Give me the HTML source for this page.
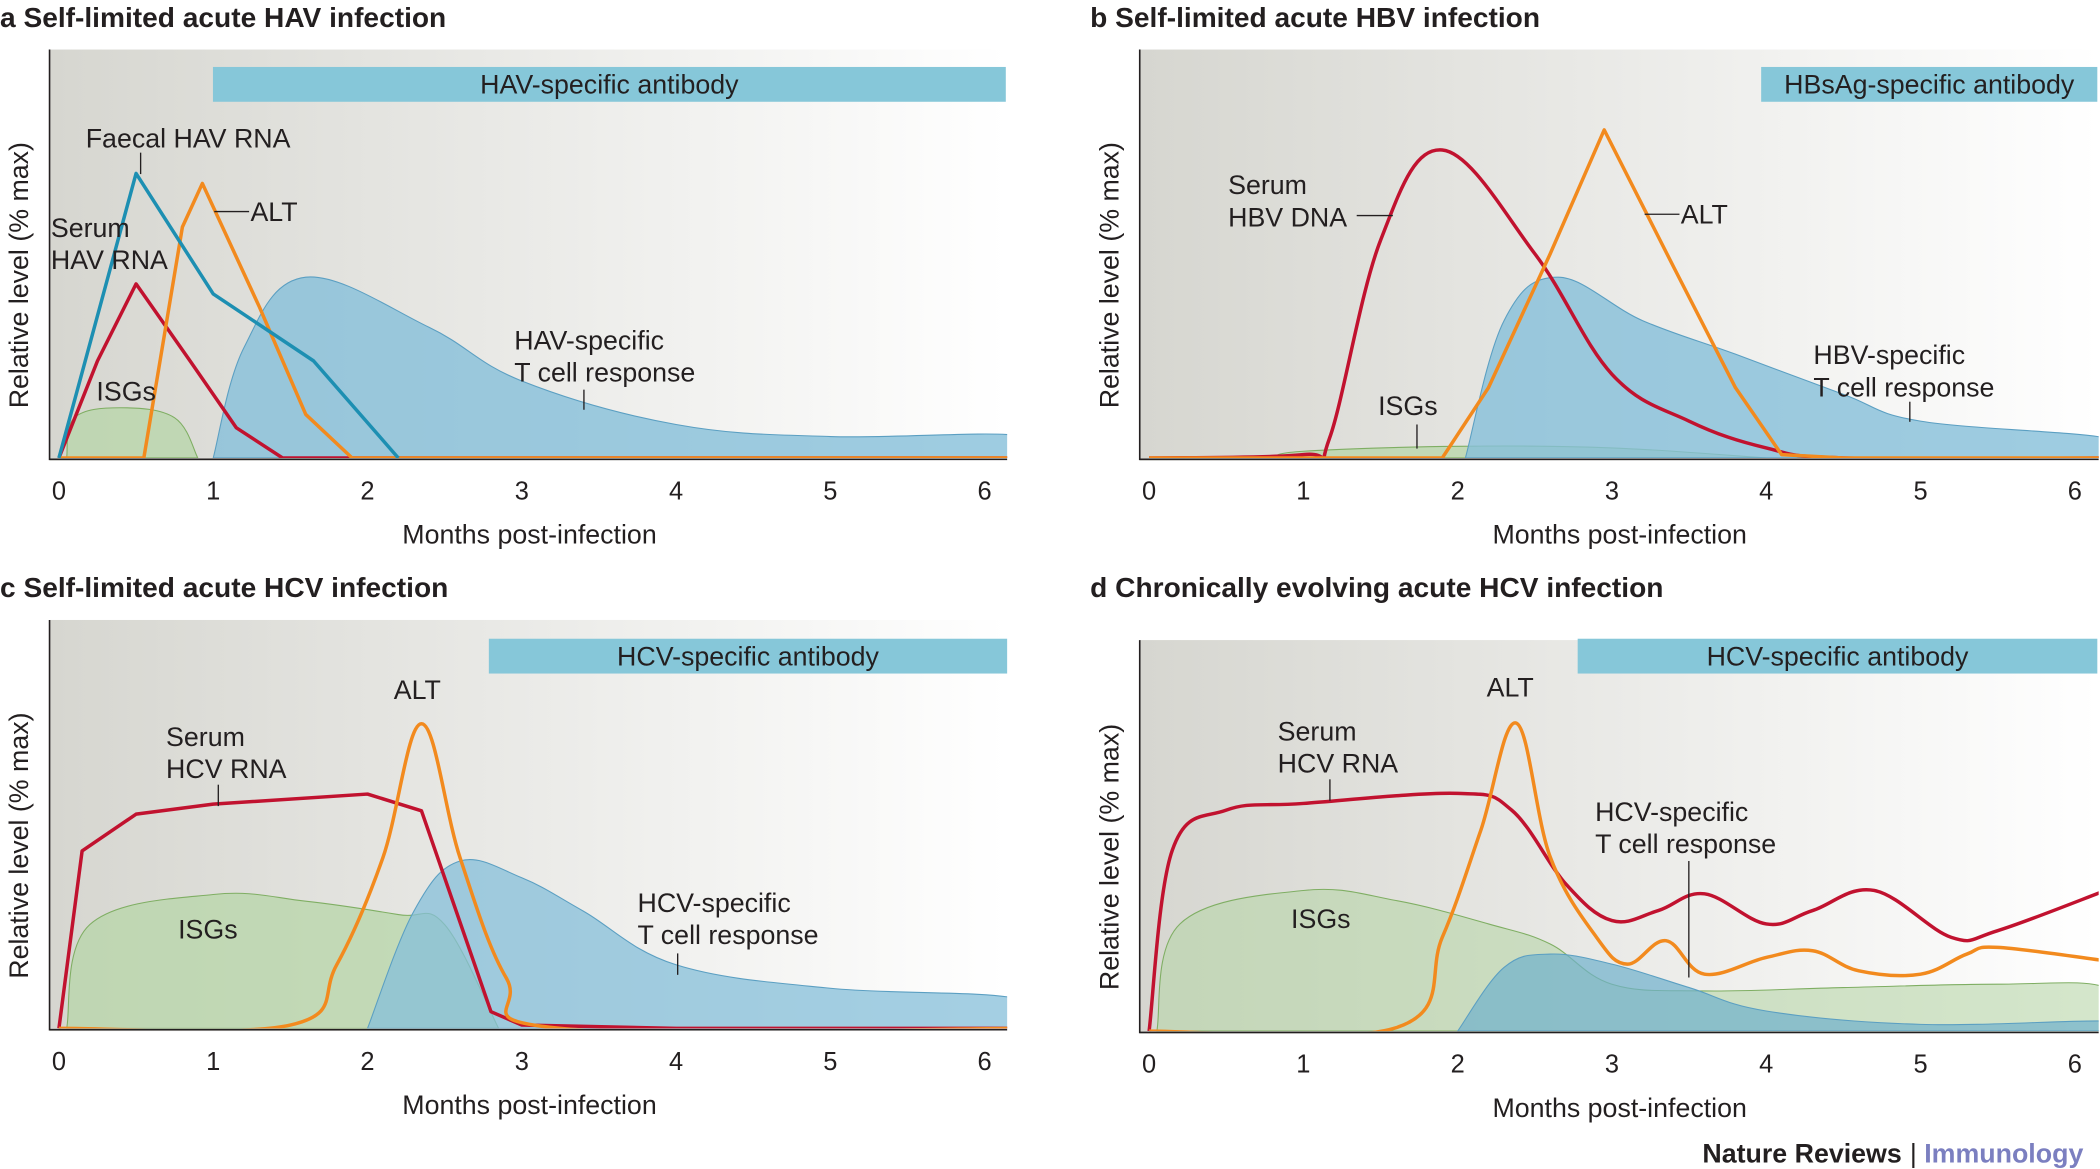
<!DOCTYPE html>
<html><head><meta charset="utf-8"><style>
html,body{margin:0;padding:0;background:#fff}
svg{display:block}
text{font-family:"Liberation Sans",sans-serif;fill:#231f20}
</style></head><body>
<svg id="fig" width="2100" height="1169" viewBox="0 0 1568 873" preserveAspectRatio="none" xmlns="http://www.w3.org/2000/svg">
<defs>
<linearGradient id="bg" x1="0" x2="1" y1="0" y2="0"><stop offset="0" stop-color="#d6d6d0"/><stop offset="1" stop-color="#ffffff"/></linearGradient>
</defs>
<g id="root"></g>
</svg>
<script>
// ===== Data (months, % max) =====
const xTicks = [0,1,2,3,4,5,6];
// Panel a
const aFaecalX = [0,0.5,1,1.65,2.2];
const aFaecalY = [0,85,49,29,0];
const aAltX = [0,0.55,0.8,0.93,1.3,1.6,1.9,6.2];
const aAltY = [0,0,69,82,45,13,0,0];
const aSerumX = [0,0.25,0.5,0.85,1.15,1.45,6.2];
const aSerumY = [0,29,52,29,9,0,0];
const aIsgX = [0.05,0.1,0.4,0.75,0.9];
const aIsgY = [0,12,15,12,0];
const aTcellX = [1.0,1.2,1.6,2.4,3,4,5,6.2];
const aTcellY = [0,33,54,39,23,10,6.4,6.8];
// Panel b
const bDnaX = [0,1,1.17,1.5,1.9,2.5,3,3.5,4,4.5,6.2];
const bDnaY = [0,1,6,65,92,61,25,11,3,0,0];
const bAltX = [0,1.9,2.2,2.6,2.95,3.4,3.8,4.1,4.5,6.2];
const bAltY = [0,0,21,61,98,57,21,1,0,0];
const bIsgX = [0.8,1,2,3,4];
const bIsgY = [0,2,3.5,3,0];
const bTcellX = [2.05,2.3,2.65,3.2,3.8,4.5,5,6.2];
const bTcellY = [0,41,54,41,31,19,11,6];
// Panel c
const cRnaX = [0,0.15,0.5,1,2,2.35,2.8,3,4,6.2];
const cRnaY = [0,53,64,67,70,65,5,1,0,0];
const cAltX = [0,1.5,1.8,2.1,2.35,2.6,2.9,3.25,6.2];
const cAltY = [0,1,19,51,91,51,15,0,0];
const cIsgX = [0.05,0.2,1,1.6,2.2,2.5,2.85];
const cIsgY = [0,31,40,38,34,31,0];
const cTcellX = [2,2.3,2.6,3,3.4,4,5,6.2];
const cTcellY = [0,35,50,45,35,19,12,9];
// Panel d
const dRnaX = [0,0.15,0.5,1,2,2.35,2.7,3,3.3,3.6,4,4.3,4.7,5.2,5.5,6.2];
const dRnaY = [0,54,66,68,71,66,44,33,36,41,32,36,42,28,30,42];
const dAltX = [0,1.6,1.9,2.15,2.38,2.6,2.9,3.1,3.35,3.6,4,4.3,4.6,5,5.3,5.5,6.2];
const dAltY = [0,1,28,60,92,52,28,20,27,17,22,24,18,17,23,25,21];
const dIsgX = [0.05,0.2,1,1.6,2.2,2.6,3,3.6,4.5,5.5,6.2];
const dIsgY = [0,32,42,39,32,26,14,12,13,14,13];
const dTcellX = [2,2.3,2.6,3,3.5,4,5,6.2];
const dTcellY = [0,19,23,20,13,6,2,3];

const NS="http://www.w3.org/2000/svg";
const root=document.getElementById('root');
function mk(tag,attrs,parent){const e=document.createElementNS(NS,tag);for(const k in attrs)e.setAttribute(k,attrs[k]);(parent||root).appendChild(e);return e;}
function txt(s,x,y,size,parent,weight,anchor){const t=mk('text',{x:x,y:y,'font-size':size,'font-weight':weight||'normal','text-anchor':anchor||'start'},parent);t.textContent=s;return t;}

function crPath(pts,smooth){
  if(!smooth){return 'M'+pts.map(p=>p[0].toFixed(1)+','+p[1].toFixed(1)).join('L');}
  let d='M'+pts[0][0]+','+pts[0][1];
  for(let i=0;i<pts.length-1;i++){
    const p0=pts[i-1]||pts[i],p1=pts[i],p2=pts[i+1],p3=pts[i+2]||p2;
    const t=0.18;
    const c1=[p1[0]+(p2[0]-p0[0])*t,p1[1]+(p2[1]-p0[1])*t];
    const c2=[p2[0]-(p3[0]-p1[0])*t,p2[1]-(p3[1]-p1[1])*t];
    d+='C'+c1[0].toFixed(1)+','+c1[1].toFixed(1)+' '+c2[0].toFixed(1)+','+c2[1].toFixed(1)+' '+p2[0].toFixed(1)+','+p2[1].toFixed(1);
  }
  return d;
}

function panel(cfg){
  const g=mk('g',{});
  
  
  const sx=v=>cfg.x0+v*115.2;
  const sy=v=>cfg.base-v*2.5;
  const bgr=mk('rect',{x:cfg.left,y:cfg.top,width:cfg.right-cfg.left,height:cfg.base+2-cfg.top,fill:'url(#bg)'},g);
  
  
  const cid='clip'+cfg.id;
  const cp=mk('clipPath',{id:cid},g);
  mk('rect',{x:cfg.left,y:cfg.top,width:cfg.right-cfg.left,height:cfg.base-cfg.top},cp);
  const plot=mk('g',{'clip-path':'url(#'+cid+')'},g);
  const pts=(X,Y)=>X.map((x,i)=>[sx(x),sy(Y[i])]);
  cfg.fills.forEach(f=>{
    const p=pts(f.x,f.y);
    const el=mk('path',{d:crPath(p,true)+'Z',fill:f.fill,'fill-opacity':f.op,stroke:f.stroke,'stroke-width':0.8},plot);
    
    
  });
  cfg.lines.forEach(l=>{
    const el=mk('path',{d:crPath(pts(l.x,l.y),l.smooth),fill:'none',stroke:l.c,'stroke-width':2.6,'stroke-linejoin':'round'},plot);
    
    
  });
  const ax=mk('path',{d:`M${cfg.left},${cfg.top}V${cfg.base+1}H${cfg.right}`,fill:'none',stroke:'#231f20','stroke-width':1.2},g);
  
  
  xTicks.forEach(t=>{
    const tl=txt(String(t),sx(t),cfg.base+31,19,g,'normal','middle');
    
    
  });
  const xt=txt('Months post-infection',sx(3.05),cfg.base+64,20,g,'normal','middle');
  
  
  const yt=txt('Relative level (% max)',0,0,20,g,'normal','middle');
  yt.setAttribute('transform',`translate(${cfg.left-16},${(cfg.top+cfg.base)/2+16}) rotate(-90)`);
  
  
  const tt=mk('text',{x:cfg.left-37,y:cfg.titleY,'font-size':21,'font-weight':'bold'},g);
  tt.textContent=cfg.title;
  
  
  const ab=mk('rect',{x:cfg.ab[0],y:cfg.ab[1],width:cfg.ab[2]-cfg.ab[0],height:26,fill:'#86c7d9'},g);
  
  
  const abt=txt(cfg.abText,(cfg.ab[0]+cfg.ab[2])/2,cfg.ab[1]+20,20,g,'normal','middle');
  
  
  cfg.labels.forEach(L=>{
    L.t.forEach((s,i)=>{const e=txt(s,L.x,L.y+i*24,20,g);
      
      });
    if(L.lead){const e=mk('path',{d:L.lead,stroke:'#231f20','stroke-width':1,fill:'none'},g);
      
      }
  });
  return g;
}
const RED='#c1122f',ORG='#f28a1e',TEAL='#1d8fb2';
const TF='#86bfd9',TS='#5b9fc2',GF='#b7d6a8',GS='#7fae63';
panel({id:'a',name:'panel-a',left:37,right:752,top:37,base:342,x0:44,titleY:20,title:'a  Self-limited acute HAV infection',
  ab:[159,50,751],abText:'HAV-specific antibody',
  fills:[{x:aIsgX,y:aIsgY,fill:GF,op:0.75,stroke:GS,n:'isgs-area'},{x:aTcellX.concat([6.2]),y:aTcellY.concat([0]),fill:TF,op:0.8,stroke:TS,n:'tcell-area'}],
  lines:[{x:aSerumX,y:aSerumY,c:RED,n:'serum-hav-rna-line'},{x:aAltX,y:aAltY,c:ORG,n:'alt-line'},{x:aFaecalX,y:aFaecalY,c:TEAL,n:'faecal-hav-rna-line'}],
  labels:[{x:64,y:110,t:['Faecal HAV RNA'],lead:'M105,114V130'},{x:187,y:165,t:['ALT'],lead:'M160,158H186'},
    {x:38,y:177,t:['Serum','HAV RNA']},{x:72,y:299,t:['ISGs']},{x:384,y:261,t:['HAV-specific','T cell response'],lead:'M436,291V306'}]});
panel({id:'b',name:'panel-b',left:851,right:1567,top:37,base:342,x0:858,titleY:20,title:'b  Self-limited acute HBV infection',
  ab:[1315,50,1566],abText:'HBsAg-specific antibody',
  fills:[{x:bIsgX,y:bIsgY,fill:GF,op:0.75,stroke:GS,n:'isgs-area'},{x:bTcellX.concat([6.2]),y:bTcellY.concat([0]),fill:TF,op:0.8,stroke:TS,n:'tcell-area'}],
  lines:[{x:bDnaX,y:bDnaY,c:RED,smooth:true,n:'serum-hbv-dna-line'},{x:bAltX,y:bAltY,c:ORG,n:'alt-line'}],
  labels:[{x:917,y:145,t:['Serum','HBV DNA'],lead:'M1013,161H1040'},{x:1255,y:167,t:['ALT'],lead:'M1228,160H1254'},
    {x:1029,y:310,t:['ISGs'],lead:'M1058,317V335'},{x:1354,y:272,t:['HBV-specific','T cell response'],lead:'M1426,300V315'}]});
panel({id:'c',name:'panel-c',left:37,right:752,top:463,base:768,x0:44,titleY:446,title:'c  Self-limited acute HCV infection',
  ab:[365,477,752],abText:'HCV-specific antibody',
  fills:[{x:cIsgX,y:cIsgY,fill:GF,op:0.75,stroke:GS,n:'isgs-area'},{x:cTcellX.concat([6.2]),y:cTcellY.concat([0]),fill:TF,op:0.75,stroke:TS,n:'tcell-area'}],
  lines:[{x:cRnaX,y:cRnaY,c:RED,n:'serum-hcv-rna-line'},{x:cAltX,y:cAltY,c:ORG,smooth:true,n:'alt-line'}],
  labels:[{x:124,y:557,t:['Serum','HCV RNA'],lead:'M163,586V602'},{x:294,y:522,t:['ALT']},{x:133,y:701,t:['ISGs']},
    {x:476,y:681,t:['HCV-specific','T cell response'],lead:'M506,712V728'}]});
panel({id:'d',name:'panel-d',left:851,right:1567,top:478,base:770,x0:858,titleY:446,title:'d  Chronically evolving acute HCV infection',
  ab:[1178,477,1566],abText:'HCV-specific antibody',
  fills:[{x:dIsgX.concat([6.2]),y:dIsgY.concat([0]),fill:GF,op:0.6,stroke:GS,n:'isgs-area'},{x:dTcellX.concat([6.2]),y:dTcellY.concat([0]),fill:'#6fb0cc',op:0.7,stroke:TS,n:'tcell-area'}],
  lines:[{x:dRnaX,y:dRnaY,c:RED,smooth:true,n:'serum-hcv-rna-line'},{x:dAltX,y:dAltY,c:ORG,smooth:true,n:'alt-line'}],
  labels:[{x:954,y:553,t:['Serum','HCV RNA'],lead:'M993,582V598'},{x:1110,y:520,t:['ALT']},{x:964,y:693,t:['ISGs']},
    {x:1191,y:613,t:['HCV-specific','T cell response'],lead:'M1261,643V730'}]});
const j=mk('text',{x:1420,y:868,'font-size':20,'font-weight':'bold','text-anchor':'end'});
j.textContent='Nature Reviews';


const j2=mk('text',{x:1426,y:868,'font-size':20,'font-weight':'bold'});
j2.innerHTML='<tspan fill="#231f20" font-weight="normal">| </tspan><tspan fill="#7b7fc0">Immunology</tspan>';


</script>
</body></html>
